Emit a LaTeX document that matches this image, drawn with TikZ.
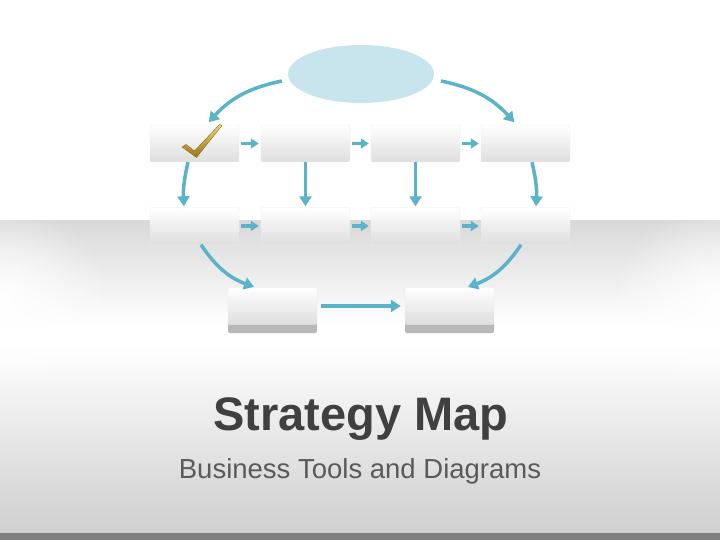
\documentclass[tikz,border=0pt]{standalone}
\usepackage{fontspec}
\setmainfont{Liberation Sans}
\usetikzlibrary{arrows.meta,shapes.geometric,fadings}
\definecolor{arr}{HTML}{5AB3C8}
\definecolor{ell}{HTML}{C8E5EE}
\definecolor{titlec}{HTML}{404040}
\definecolor{subc}{HTML}{5A5A5A}
\definecolor{goldhi}{HTML}{F0D774}
\definecolor{goldlo}{HTML}{9A7418}
\tikzfading[name=glow, inner color=transparent!0, outer color=transparent!100]
\tikzset{
  box/.style={rectangle, rounded corners=2pt, minimum width=89pt, minimum height=37pt,
    top color=white, bottom color=black!13, draw=black!7, line width=0.4pt, inner sep=0pt},
  con/.style={draw=arr, line width=3.5pt, -{Triangle[length=10pt,width=12pt]}, shorten >=1pt},
  small/.style={draw=arr, line width=3.5pt, -{Triangle[length=8pt,width=10pt]}},
}
\begin{document}
\begin{tikzpicture}[x=1pt,y=-1pt]
\useasboundingbox (0,0) rectangle (720,540);
\fill[white] (0,0) rectangle (720,540);
% background band
\begin{scope}
\clip (0,221) rectangle (720,533);
\shade[top color=black!15, bottom color=white] (0,221) rectangle (720,325);
\fill[white] (0,325) rectangle (720,345);
\shade[top color=white, bottom color=black!19] (0,345) rectangle (720,533);
\fill[white, path fading=glow] (0,300) ellipse (110 and 95);
\fill[white, path fading=glow] (720,300) ellipse (110 and 95);
\end{scope}
\fill[black!50] (0,533) rectangle (720,540);
% ellipse
\node[ellipse, fill=ell, minimum width=146pt, minimum height=58pt, inner sep=0pt] (top) at (361,74) {};
% boxes
\foreach \n/\x in {a/194.5,b/305.5,c/415.5,d/525.5}{
  \node[box] (\n1) at (\x,143.5) {};
  \node[box] (\n2) at (\x,226) {};
}
\fill[black!28, rounded corners=2pt] (228,322) rectangle (317,333);
\fill[black!28, rounded corners=2pt] (405,322) rectangle (494,333);
\node[box] (e) at (272.5,306) {};
\node[box] (f) at (449.5,306) {};
% check mark
\shade[top color=goldhi, bottom color=goldlo, draw=goldlo!80!black, line width=0.3pt]
  (182,147) -- (186,144.5) -- (194.5,151) -- (219.5,124.5) -- (222,125.5) -- (196.5,157.5) -- cycle;
% connectors
\coordinate (t1) at (282,81);
\coordinate (t2) at (441,81);
\draw[con] (t1) to[bend right=18] (208,123);
\draw[con] (t2) to[bend left=18] (515,123);
\draw[con] (a1.south -| 188,0) to[bend right=8] (a2.north -| 184,0);
\draw[con] (b1.south) -- (b2.north);
\draw[con] (c1.south) -- (c2.north);
\draw[con] (d1.south -| 532,0) to[bend left=8] (d2.north -| 536,0);
\foreach \p/\q in {a/b,b/c,c/d}{
  \draw[small] ([xshift=2pt]\p1.east) -- ([xshift=-2pt]\q1.west);
  \draw[small] ([xshift=2pt]\p2.east) -- ([xshift=-2pt]\q2.west);
}
\draw[con] (a2.south -| 201,0) to[bend right=18] (e.north -| 255,0);
\draw[con] (d2.south -| 521,0) to[bend left=18] (f.north -| 467,0);
\draw[con] ([xshift=4pt]e.east) -- ([xshift=-3pt]f.west);
% texts
\node[font=\fontsize{47}{52}\selectfont\bfseries, text=titlec, inner sep=0pt, anchor=base] (title) at (361,430) {Strategy Map};
\node[font=\fontsize{27.5}{32}\selectfont, text=subc, inner sep=0pt, anchor=base] (sub) at (360,478) {Business Tools and Diagrams};
\end{tikzpicture}
\end{document}
